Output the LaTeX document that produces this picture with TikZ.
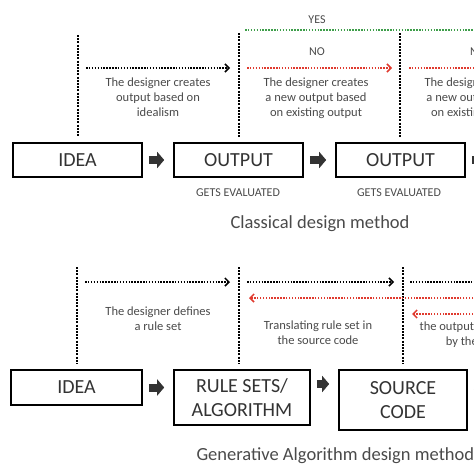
\documentclass[tikz,border=0pt]{standalone}
\usepackage{fontspec}
\setmainfont{Carlito}
\usetikzlibrary{arrows.meta}
\definecolor{txtgray}{HTML}{4A4A4A}
\definecolor{boxgray}{HTML}{333333}
\definecolor{dotred}{HTML}{E03A2E}
\definecolor{dotgreen}{HTML}{3E9E4A}
\begin{document}
\begin{tikzpicture}[x=1pt, y=-1pt, >={Straight Barb[length=4pt,width=8pt]},
	box/.style={draw, line width=1.6pt, inner sep=0pt, align=center, text=boxgray,
		font=\fontsize{20}{24}\selectfont},
	note/.style={align=center, text=txtgray, font=\fontsize{12.5}{15}\selectfont},
	small/.style={text=txtgray, font=\fontsize{12}{14}\selectfont},
	caption/.style={anchor=west, text=txtgray, font=\fontsize{18.5}{22}\selectfont},
	dots/.style={line width=1.5pt, dash pattern=on 1.5pt off 1.4pt},
	vdots/.style={line width=2pt, dash pattern=on 2pt off 1.2pt},
	blockarrow/.style={line width=8pt, boxgray, -{Triangle[length=7pt,width=16pt]},
		shorten <=6pt, shorten >=9pt}]
	\useasboundingbox (0,0) rectangle (474,474);
	\clip (0,0) rectangle (474,474);
	
	% Các điểm của đường chấm (phần trên)
	\coordinate (v1a) at (78,35);   \coordinate (v1b) at (78,137);
	\coordinate (v2a) at (239,33);  \coordinate (v2b) at (239,137);
	\coordinate (v3a) at (400,33);  \coordinate (v3b) at (400,137);
	\coordinate (ya) at (245,30);   \coordinate (yb) at (490,30);
	\coordinate (a1) at (86,68);    \coordinate (b1) at (230,68);
	\coordinate (a2) at (247,68);   \coordinate (b2) at (392,68);
	\coordinate (a3) at (409,68);   \coordinate (b3) at (560,68);
	
	% Các điểm của đường chấm (phần dưới)
	\coordinate (v4a) at (77,267);  \coordinate (v4b) at (77,364);
	\coordinate (v5a) at (239,267); \coordinate (v5b) at (239,364);
	\coordinate (v6a) at (403,267); \coordinate (v6b) at (403,364);
	\coordinate (c1) at (85,282);   \coordinate (d1) at (230,282);
	\coordinate (c2) at (247,282);  \coordinate (d2) at (394,282);
	\coordinate (c3) at (410,282);  \coordinate (d3) at (560,282);
	\coordinate (r1) at (560,298);  \coordinate (s1) at (249,298);
	\coordinate (r2) at (560,314);  \coordinate (s2) at (412,314);
	
	% Các hộp
	\node[box, minimum width=129pt, minimum height=34pt] (idea) at (77.5,160) {IDEA};
	\node[box, minimum width=129pt, minimum height=34pt] (out1) at (238.5,160) {OUTPUT};
	\node[box, minimum width=129pt, minimum height=34pt] (out2) at (400.5,160) {OUTPUT};
	\coordinate (out3) at (510,160);
	\node[box, minimum width=131pt, minimum height=35pt] (idea2) at (76.5,387.5) {IDEA};
	\node[box, minimum width=136pt, minimum height=55pt] (rules) at (242,397.5) {RULE SETS/\\ALGORITHM};
	\node[box, minimum width=128pt, minimum height=60pt] (code) at (403,400) {SOURCE\\CODE};
	\coordinate (code2) at (510,393);
	
	% Mũi tên giữa các hộp
	\draw[blockarrow] (idea.east) -- (out1.west);
	\draw[blockarrow] (out1.east) -- (out2.west);
	\draw[blockarrow] (out2.east) -- (out3);
	\draw[blockarrow] (idea2.east) -- (idea2.east -| rules.west);
	\draw[blockarrow] (rules.east |- 0,384) -- (code.west |- 0,384);
	\draw[blockarrow] (code.east |- code2) -- (code2);
	
	% Đường chấm đứng
	\foreach \p in {v1,v2,v3,v4,v5,v6}
		\draw[vdots] (\p a) -- (\p b);
	
	% Vectơ chấm
	\draw[dots, dotgreen] (ya) -- (yb);
	\draw[dots, ->] (a1) -- (b1);
	\draw[dots, dotred, ->] (a2) -- (b2);
	\draw[dots, dotred] (a3) -- (b3);
	\draw[dots, ->] (c1) -- (d1);
	\draw[dots, ->] (c2) -- (d2);
	\draw[dots] (c3) -- (d3);
	\draw[dots, dotred, ->] (r1) -- (s1);
	\draw[dots, dotred, ->] (r2) -- (s2);
	
	% Nhãn
	\node[small] (yes) at (317,20) {YES};
	\node[small] (no1) at (317,52) {NO};
	\node[small] (no2) at (478,52) {NO};
	\node[note] (t1) at (158,97) {The designer creates\\output based on\\idealism};
	\node[note] (t2) at (316,98) {The designer creates\\a new output based\\on existing output};
	\node[note] (t3) at (477,98) {The designer creates\\a new output based\\on existing output};
	\node[small] (ev1) at (238,193) {GETS EVALUATED};
	\node[small] (ev2) at (399,193) {GETS EVALUATED};
	\node[caption] (cap1) at (227,224) {Classical design method};
	\node[note] (t4) at (158,318.5) {The designer defines\\a rule set};
	\node[note] (t5) at (318,332.5) {Translating rule set in\\the source code};
	\node[note] (t6) at (485,334.5) {the output gets evaluated\\by the designer};
	\node[caption] (cap2) at (193,456) {Generative Algorithm design method};
\end{tikzpicture}
\end{document}
